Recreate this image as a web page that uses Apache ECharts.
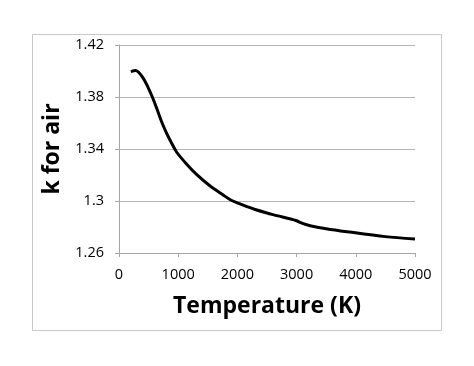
<!DOCTYPE html>
<html>
<head>
<meta charset="utf-8">
<script src="https://cdn.jsdelivr.net/npm/echarts@6/dist/echarts.min.js"></script>
<style>
html,body{margin:0;padding:0;background:#fff;}
#c{width:474px;height:366px;}
</style>
</head>
<body>
<div id="c"></div>
<script>
var temperature = [200, 280, 410, 500, 563, 640, 720, 805, 890, 975, 1140, 1310, 1540, 1760, 1880, 2000, 2150, 2300, 2600, 2900, 3000, 3100, 3230, 3500, 3850, 4500, 5000];
var kAir = [1.3995, 1.4003, 1.3944, 1.3865, 1.3800, 1.3710, 1.3610, 1.3520, 1.3444, 1.3375, 1.3285, 1.3205, 1.3115, 1.3046, 1.3010, 1.2985, 1.2958, 1.2935, 1.2895, 1.2862, 1.2848, 1.2828, 1.2810, 1.2787, 1.2764, 1.2726, 1.2708];
var xTicks = [0, 1000, 2000, 3000, 4000, 5000];
var yTicks = [1.26, 1.30, 1.34, 1.38, 1.42];

var chart = echarts.init(document.getElementById('c'), null, {renderer: 'canvas'});
var data = temperature.map(function (t, i) { return [t, kAir[i]]; });
var font = '"Open Sans", "Liberation Sans", sans-serif';
chart.setOption({
  animation: false,
  backgroundColor: '#fff',
  graphic: [{
    type: 'rect', left: 30, top: 32,
    shape: {width: 409, height: 296},
    style: {fill: 'none', stroke: '#c8c8c8', lineWidth: 1}
  }],
  grid: {left: 119, top: 45, right: 59, bottom: 113},
  xAxis: {
    type: 'value', min: 0, max: 5000, interval: 1000,
    name: 'Temperature (K)', nameLocation: 'middle', nameGap: 42,
    nameTextStyle: {fontFamily: font, fontWeight: 'bold', fontSize: 23, color: '#000'},
    axisLine: {show: true, lineStyle: {color: '#a6a6a6', width: 1}},
    axisTick: {show: true, length: 4, lineStyle: {color: '#a6a6a6'}},
    axisLabel: {fontFamily: font, fontSize: 14.5, color: '#000', margin: 14,
      formatter: function (v) { return xTicks.indexOf(v) >= 0 ? String(v) : ''; }},
    splitLine: {show: false}
  },
  yAxis: {
    type: 'value', min: 1.26, max: 1.42, interval: 0.04,
    name: 'k for air', nameLocation: 'middle', nameGap: 53, nameRotate: 90,
    nameTextStyle: {fontFamily: font, fontWeight: 'bold', fontSize: 23, color: '#000'},
    axisLine: {show: true, lineStyle: {color: '#a6a6a6', width: 1}},
    axisTick: {show: true, length: 4, lineStyle: {color: '#a6a6a6'}},
    axisLabel: {fontFamily: font, fontSize: 14.5, color: '#000', margin: 15,
      formatter: function (v) {
        var r = Math.round(v * 100) / 100;
        return String(r);
      }},
    splitLine: {show: true, lineStyle: {color: '#b4b4b4', width: 1}}
  },
  series: [{
    type: 'line', data: data, smooth: 0.3, showSymbol: false, symbol: 'none',
    lineStyle: {color: '#000', width: 3}
  }]
});
</script>
</body>
</html>
